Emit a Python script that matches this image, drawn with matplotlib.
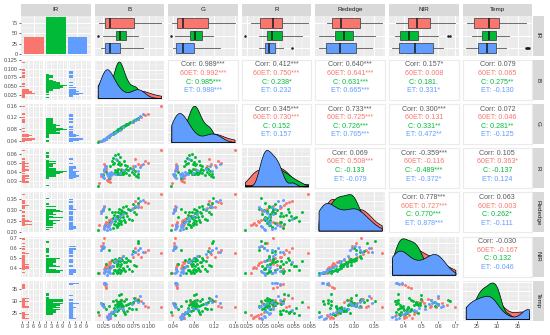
import numpy as np
import matplotlib
matplotlib.use('Agg')
import matplotlib.pyplot as plt
from matplotlib.ticker import MaxNLocator

plt.rcParams['font.family'] = ['Liberation Sans', 'DejaVu Sans']

groups = ["60ET", "C", "ET"]
group_colors = ["#F8766D", "#00BA38", "#619CFF"]
ir_counts = [42, 90, 42]
var_names = ["B", "G", "R", "Rededge", "NIR", "Temp"]

B = {
    "60ET": [.028, .030, .027, .029, .024, .027, .022, .033, .034, .036, .035, .032, .038, .037, .018, .048,
             .055, .075, .082, .088, .094, .099, .078, .1205],
    "C": [.016, .024, .030, .034, .037, .039, .041, .042, .043, .043, .044, .045, .046, .047, .047, .048,
          .049, .049, .050, .050, .051, .051, .052, .052, .053, .054, .054, .055, .055, .056, .057, .058,
          .059, .060, .061, .062, .063, .064, .066, .068, .070, .072, .074, .076, .078, .080, .082, .083],
    "ET": [.027, .029, .026, .028, .023, .025, .022, .027, .031, .033, .034, .036, .038, .035, .040, .046,
           .052, .058, .044, .072, .078, .082, .086, .090],
}
G = {
    "60ET": [.046, .048, .045, .047, .042, .044, .041, .056, .057, .060, .058, .055, .062, .061, .038, .073,
             .082, .106, .114, .121, .128, .133, .110, .160],
    "C": [.036, .044, .050, .055, .060, .063, .065, .067, .068, .069, .070, .071, .073, .074, .075, .076,
          .077, .078, .079, .078, .080, .081, .082, .081, .083, .084, .085, .086, .085, .087, .088, .090,
          .091, .092, .093, .095, .096, .097, .099, .102, .104, .106, .108, .110, .112, .114, .116, .117],
    "ET": [.045, .047, .043, .046, .041, .043, .040, .045, .053, .055, .057, .059, .062, .058, .064, .071,
           .078, .086, .068, .104, .111, .116, .124, .131],
}
R = {
    "60ET": [.046, .044, .048, .042, .038, .042, .035, .030, .032, .029, .034, .031, .036, .033, .028, .040,
             .043, .046, .049, .047, .052, .050, .054, .064],
    "C": [.024, .036, .040, .033, .046, .052, .048, .055, .039, .050, .058, .042, .040, .053, .041, .038,
          .060, .043, .048, .039, .051, .037, .047, .038, .056, .042, .039, .040, .049, .038, .037, .039,
          .052, .041, .047, .043, .039, .046, .042, .036, .044, .040, .043, .038, .041, .035, .037, .034],
    "ET": [.043, .046, .041, .044, .036, .034, .038, .033, .037, .035, .039, .036, .040, .034, .038, .054,
           .039, .042, .037, .043, .046, .041, .045, .048],
}
Rededge = {
    "60ET": [.238, .246, .232, .250, .305, .318, .296, .244, .252, .240, .258, .236, .262, .248, .234, .275,
             .288, .308, .322, .315, .336, .330, .342, .370],
    "C": [.212, .300, .269, .305, .248, .291, .223, .265, .241, .281, .252, .294, .235, .276, .226, .267,
          .294, .244, .275, .235, .306, .256, .288, .243, .269, .300, .255, .282, .242, .298, .269, .315,
          .257, .293, .249, .286, .317, .273, .306, .263, .301, .259, .326, .294, .316, .284, .332, .353],
    "ET": [.224, .232, .220, .236, .296, .304, .290, .312, .212, .226, .240, .218, .248, .230, .255, .262,
           .275, .285, .268, .306, .320, .315, .338, .345],
}
NIR = {
    "60ET": [.405, .425, .385, .440, .650, .700, .620, .412, .430, .398, .455, .402, .470, .445, .350, .480,
             .500, .515, .540, .505, .560, .585, .600, .550],
    "C": [.352, .600, .442, .580, .405, .481, .349, .415, .375, .458, .378, .494, .363, .436, .351, .420,
          .468, .378, .440, .362, .496, .391, .471, .352, .422, .493, .379, .442, .364, .481, .401, .520,
          .381, .454, .371, .455, .497, .414, .478, .391, .471, .366, .575, .427, .560, .414, .655, .670],
    "ET": [.360, .372, .350, .385, .600, .625, .585, .615, .330, .355, .390, .345, .405, .370, .420, .455,
           .490, .520, .470, .545, .560, .580, .600, .565],
}
Temp = {
    "60ET": [36.4, 35.8, 36.9, 35.2, 28.2, 27.5, 28.9, 23.2, 24.0, 22.6, 24.6, 23.7, 25.3, 22.9, 24.2, 29.6,
             30.4, 29.2, 30.8, 29.8, 27.8, 27.2, 31.0, 27.3],
    "C": [25.2, 28.6, 26.4, 27.9, 24.3, 25.0, 29.8, 24.8, 27.0, 25.6, 24.0, 28.3, 30.4, 25.9, 28.8, 27.4,
          29.5, 28.1, 26.3, 29.1, 32.4, 27.7, 28.5, 29.8, 26.9, 28.9, 27.2, 30.2, 32.8, 28.0, 26.0, 27.6,
          25.3, 30.0, 24.6, 28.4, 30.6, 25.8, 28.8, 27.0, 29.0, 26.4, 29.6, 31.2, 30.1, 26.6, 30.5, 29.9],
    "ET": [37.2, 36.9, 37.6, 37.4, 28.4, 27.8, 28.9, 27.2, 23.0, 22.4, 24.3, 23.6, 24.8, 22.9, 25.4, 26.2,
           27.0, 26.6, 25.5, 28.6, 30.2, 29.4, 32.1, 28.9],
}
data = [B, G, R, Rededge, NIR, Temp]

row_ticks = [[0.025, 0.05, 0.075, 0.1, 0.125], [0.04, 0.08, 0.12, 0.16], [0.03, 0.04, 0.05, 0.06],
             [0.20, 0.25, 0.30, 0.35], [0.4, 0.5, 0.6, 0.7], [25, 30, 35]]
row_labels = [["0.025", "0.050", "0.075", "0.100", "0.125"], ["0.04", "0.08", "0.12", "0.16"],
              ["0.03", "0.04", "0.05", "0.06"], ["0.20", "0.25", "0.30", "0.35"],
              ["0.4", "0.5", "0.6", "0.7"], ["25", "30", "35"]]
col_ticks = [[0.025, 0.05, 0.075, 0.1], [0.04, 0.08, 0.12, 0.16], [0.025, 0.035, 0.045, 0.055, 0.065],
             [0.25, 0.30, 0.35], [0.4, 0.5, 0.6, 0.7], [25, 30, 35]]
col_labels = [["0.025", "0.050", "0.075", "0.100"], ["0.04", "0.08", "0.12", "0.16"],
              ["0.025", "0.035", "0.045", "0.055", "0.065"], ["0.25", "0.30", "0.35"],
              ["0.4", "0.5", "0.6", "0.7"], ["25", "30", "35"]]
count_ticks = [0, 25, 50, 75]
hist_ticks = [0, 3, 6, 9]

# upper panels: Corr, 60ET, C, ET
corr_text = {
    (0, 1): ["0.989***", "0.992***", "0.985***", "0.988***"],
    (0, 2): ["0.412***", "0.750***", "0.238*", "0.232"],
    (0, 3): ["0.640***", "0.641***", "0.631***", "0.665***"],
    (0, 4): ["0.157*", "0.008", "0.181.", "0.331*"],
    (0, 5): ["0.079", "0.065", "0.275**", "-0.130"],
    (1, 2): ["0.345***", "0.730***", "0.152", "0.157"],
    (1, 3): ["0.733***", "0.725***", "0.726***", "0.765***"],
    (1, 4): ["0.300***", "0.131", "0.331**", "0.472**"],
    (1, 5): ["0.072", "0.046", "0.281**", "-0.125"],
    (2, 3): ["0.069", "0.508***", "-0.133", "-0.079"],
    (2, 4): ["-0.359***", "-0.116", "-0.489***", "-0.372*"],
    (2, 5): ["0.105", "0.363*", "-0.137", "0.124"],
    (3, 4): ["0.778***", "0.727***", "0.770***", "0.878***"],
    (3, 5): ["0.063", "0.003", "0.262*", "-0.111"],
    (4, 5): ["-0.030", "-0.167", "0.132", "-0.046"],
}
corr_prefix = ["Corr: ", "60ET: ", "C: ", "ET: "]
corr_colors = ["#595959"] + group_colors

W, H = 550, 335
fig = plt.figure(figsize=(W / 100, H / 100), dpi=100)
BG = "#EBEBEB"
TICK_C = "#4D4D4D"
FS_TICK = 4.0

col_left = [21 + i * 73.6 for i in range(7)]
col_w = 69.5
row_top = [15.5 + i * 44.2 for i in range(7)]
row_h = 40


def add_ax(x, y, w, h):
    return fig.add_axes([x / W, 1 - (y + h) / H, w / W, h / H])


def minors(ticks, lim):
    t = np.asarray(ticks, float)
    step = t[1] - t[0]
    m = np.arange(t[0] - step / 2, lim[1] + step, step)
    return [v for v in m if lim[0] < v < lim[1]]


def panel(ax, xlim, ylim, xgrid, ygrid, xminor=True, yminor=True, bg=BG):
    ax.set_facecolor(bg)
    ax.set_xlim(xlim)
    ax.set_ylim(ylim)
    for s in ax.spines.values():
        s.set_visible(False)
    if xminor:
        for v in minors(xgrid, xlim):
            ax.axvline(v, color="white", lw=0.35, zorder=0)
    if yminor:
        for v in minors(ygrid, ylim):
            ax.axhline(v, color="white", lw=0.35, zorder=0)
    for v in xgrid:
        ax.axvline(v, color="white", lw=0.7, zorder=0)
    for v in ygrid:
        ax.axhline(v, color="white", lw=0.7, zorder=0)
    ax.set_xticks([])
    ax.set_yticks([])


def left_labels(ax, ticks, labels):
    ax.set_yticks(ticks)
    ax.set_yticklabels(labels)
    ax.tick_params(axis="y", length=1.6, width=0.5, color="#333333", pad=0.8,
                   labelsize=FS_TICK, labelcolor=TICK_C)


def bottom_labels(ax, ticks, labels):
    ax.set_xticks(ticks)
    ax.set_xticklabels(labels)
    ax.tick_params(axis="x", length=1.6, width=0.5, color="#333333", pad=0.8,
                   labelsize=FS_TICK, labelcolor=TICK_C)


def kde(x, grid):
    x = np.asarray(x, float)
    n = len(x)
    sd = x.std(ddof=1)
    iqr = np.subtract(*np.percentile(x, [75, 25]))
    bw = 0.9 * min(sd, iqr / 1.34) * n ** -0.2
    z = (grid[:, None] - x[None, :]) / bw
    return np.exp(-0.5 * z ** 2).sum(1) / (n * bw * np.sqrt(2 * np.pi))


lims = []
ranges = []
for d in data:
    allv = np.concatenate([d[g] for g in groups])
    lo, hi = allv.min(), allv.max()
    ranges.append((lo, hi))
    lims.append((lo - 0.05 * (hi - lo), hi + 0.05 * (hi - lo)))

# top-left: IR counts
ax = add_ax(col_left[0], row_top[0], col_w, row_h)
panel(ax, (0.4, 3.6), (-4.5, 94.5), [1, 2, 3], count_ticks, xminor=False)
ax.bar([1, 2, 3], ir_counts, width=0.9, color=group_colors, zorder=2)
left_labels(ax, count_ticks, [str(t) for t in count_ticks])

# first row: box plots per variable
for j in range(6):
    ax = add_ax(col_left[j + 1], row_top[0], col_w, row_h)
    panel(ax, lims[j], (0.4, 3.6), col_ticks[j], [1, 2, 3], yminor=False)
    bp = ax.boxplot([data[j][g] for g in groups], positions=[3, 2, 1], orientation="horizontal",
                    widths=0.75, patch_artist=True, manage_ticks=False, whis=1.5,
                    medianprops=dict(color="#1A1A1A", lw=1.1),
                    whiskerprops=dict(color="#555555", lw=0.6),
                    capprops=dict(lw=0),
                    flierprops=dict(marker="o", ms=1.8, mfc="#1A1A1A", mec="none"))
    for patch, c in zip(bp["boxes"], group_colors):
        patch.set_facecolor(c)
        patch.set_edgecolor("#333333")
        patch.set_linewidth(0.5)
    ax.set_xticks([])
    ax.set_yticks([])

# first column: histograms faceted by group
gap = 1.5
fw = (col_w - 2 * gap) / 3
for i in range(6):
    d = data[i]
    lo, hi = ranges[i]
    bins = np.linspace(lo, hi, 31)
    centers = 0.5 * (bins[1:] + bins[:-1])
    for k, g in enumerate(groups):
        ax = add_ax(col_left[0] + k * (fw + gap), row_top[i + 1], fw, row_h)
        panel(ax, (-0.5, 11.2), lims[i], hist_ticks, row_ticks[i])
        vals = np.asarray(d[g])
        w = np.full(len(vals), ir_counts[k] / len(vals))
        cnt, _ = np.histogram(vals, bins=bins, weights=w)
        ax.barh(centers, cnt, height=bins[1] - bins[0], color=group_colors[k], lw=0, zorder=2)
        if k == 0:
            left_labels(ax, row_ticks[i], row_labels[i])
        if i == 5:
            bottom_labels(ax, hist_ticks, [str(t) for t in hist_ticks])

# the 6x6 block
for i in range(6):
    for j in range(6):
        ax = add_ax(col_left[j + 1], row_top[i + 1], col_w, row_h)
        if i == j:
            lo, hi = ranges[j]
            grid = np.linspace(lo, hi, 300)
            dens = [kde(data[j][g], grid) for g in groups]
            m = max(dd.max() for dd in dens)
            yl = (-0.05 * m, 1.05 * m)
            yg = MaxNLocator(4).tick_values(0, m)
            yg = [v for v in yg if yl[0] < v < yl[1]]
            panel(ax, lims[j], yl, col_ticks[j], yg)
            for dd, c in zip(dens, group_colors):
                ax.fill_between(grid, 0, dd, facecolor=c, edgecolor="black", lw=0.5, zorder=2)
        elif i > j:
            panel(ax, lims[j], lims[i], col_ticks[j], row_ticks[i])
            for g, c in zip(groups, group_colors):
                ax.scatter(data[j][g], data[i][g], s=4.5, color=c, lw=0, zorder=2)
        else:
            ax.set_facecolor("white")
            ax.set_xticks([])
            ax.set_yticks([])
            for s in ax.spines.values():
                s.set_color(BG)
                s.set_linewidth(0.8)
            for k, (pre, val) in enumerate(zip(corr_prefix, corr_text[(i, j)])):
                ax.text(0.5, 0.87 - k * 0.215, pre + val, color=corr_colors[k], ha="center",
                        va="center", fontsize=5.1, transform=ax.transAxes)
        if i == 5:
            bottom_labels(ax, col_ticks[j], col_labels[j])

# strips
names = ["IR"] + var_names
for j, name in enumerate(names):
    sa = add_ax(col_left[j], 4, col_w, 11.5)
    sa.set_facecolor("#D9D9D9")
    sa.set_xticks([])
    sa.set_yticks([])
    for s in sa.spines.values():
        s.set_visible(False)
    sa.text(0.5, 0.5, name, ha="center", va="center", fontsize=4.5, color="#1A1A1A",
            transform=sa.transAxes)
for i, name in enumerate(names):
    sa = add_ax(532.6, row_top[i], 11.4, row_h)
    sa.set_facecolor("#D9D9D9")
    sa.set_xticks([])
    sa.set_yticks([])
    for s in sa.spines.values():
        s.set_visible(False)
    sa.text(0.5, 0.5, name, ha="center", va="center", fontsize=4.5, color="#1A1A1A",
            rotation=-90, transform=sa.transAxes)

fig.savefig("out.png", dpi=100)
